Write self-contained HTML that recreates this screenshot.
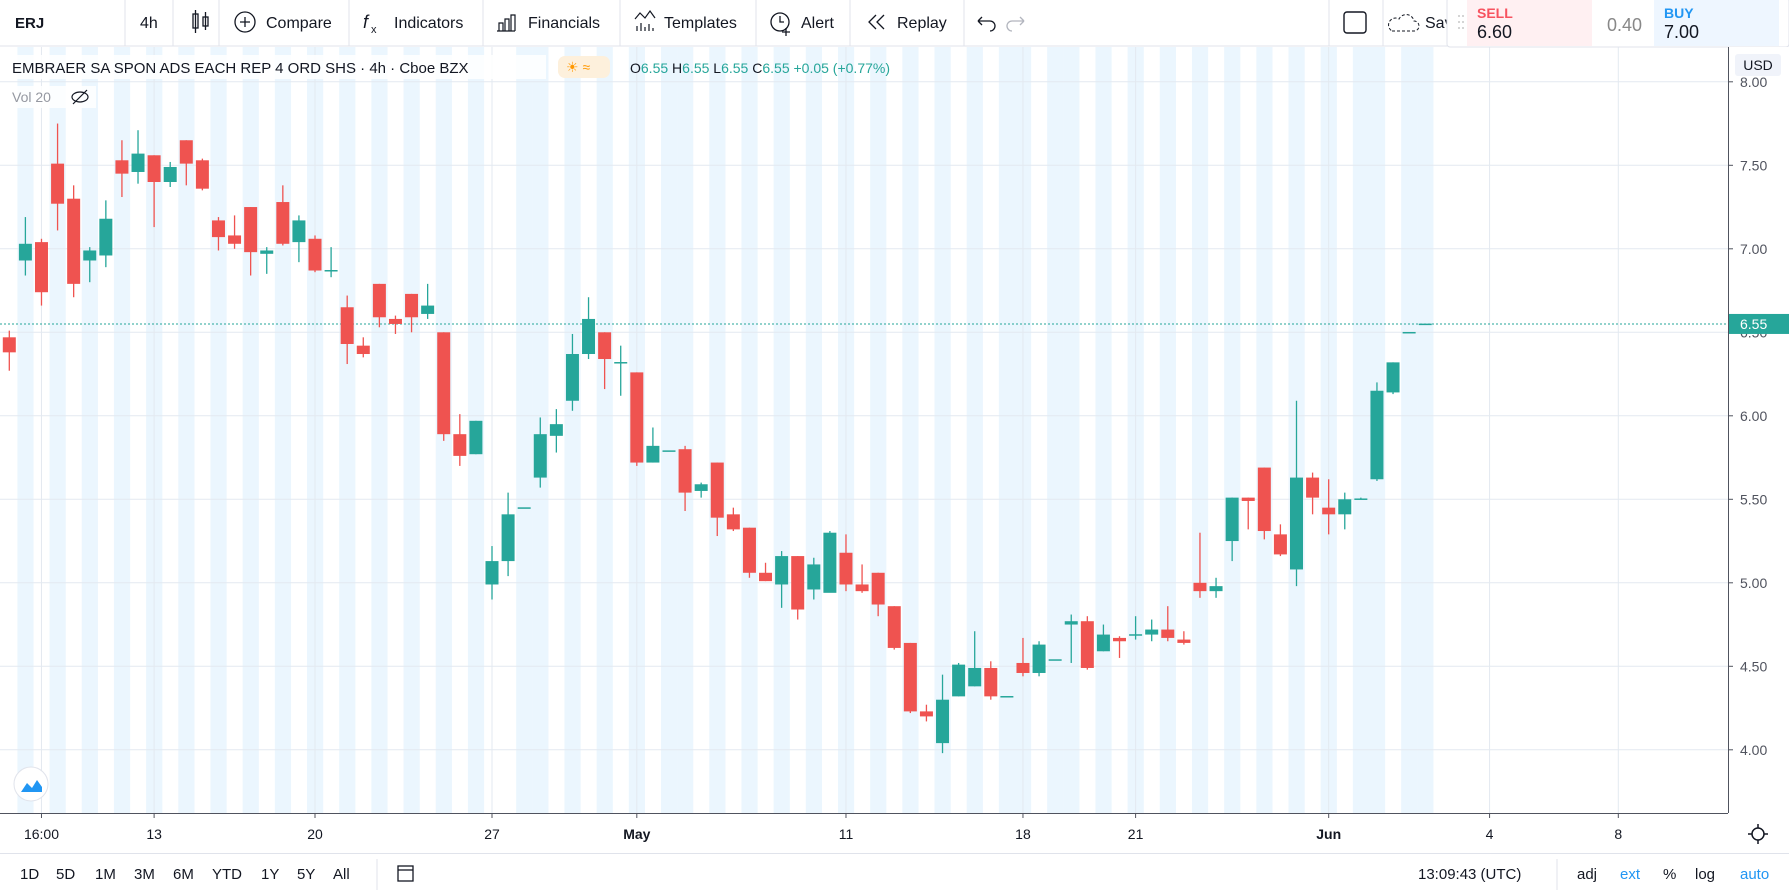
<!DOCTYPE html>
<html><head><meta charset="utf-8">
<style>
html,body{margin:0;padding:0;width:1789px;height:895px;overflow:hidden;background:#fff;font-family:"Liberation Sans",sans-serif;color:#131722}
svg{position:absolute;left:0;top:0}
text{font-family:"Liberation Sans",sans-serif}
</style></head>
<body>
<svg id="s" width="1789" height="895" viewBox="0 0 1789 895">
<g id="bands"></g>
<g id="grid"></g>
<g id="candles"></g>
<!-- toolbar -->
<g font-size="16" fill="#131722">
<rect x="0" y="0" width="1789" height="46" fill="#fff"/>
<line x1="0" y1="46" x2="1789" y2="46" stroke="#e0e3eb"/>
<text x="15" y="28" font-weight="bold" font-size="15">ERJ</text>
<g stroke="#e0e3eb"><line x1="125" y1="0" x2="125" y2="46"/><line x1="173" y1="0" x2="173" y2="46"/><line x1="219" y1="0" x2="219" y2="46"/><line x1="349" y1="0" x2="349" y2="46"/><line x1="483" y1="0" x2="483" y2="46"/><line x1="620" y1="0" x2="620" y2="46"/><line x1="756" y1="0" x2="756" y2="46"/><line x1="850" y1="0" x2="850" y2="46"/><line x1="964" y1="0" x2="964" y2="46"/><line x1="1329" y1="0" x2="1329" y2="46"/><line x1="1383" y1="0" x2="1383" y2="46"/></g>
<text x="140" y="28">4h</text>
<g stroke="#131722" fill="none" stroke-width="1.3"><rect x="193" y="14" width="5" height="14"/><line x1="195.5" y1="10" x2="195.5" y2="33"/><rect x="203" y="17" width="5" height="9"/><line x1="205.5" y1="12" x2="205.5" y2="30"/></g>
<g><circle cx="245" cy="22" r="10" fill="none" stroke="#131722" stroke-width="1.3"/><path d="M240 22h10M245 17v10" stroke="#131722" stroke-width="1.3"/><text x="266" y="28">Compare</text></g>
<g><text x="363" y="28" font-style="italic" font-size="18">f</text><text x="371" y="33" font-size="11">x</text><text x="394" y="28">Indicators</text></g>
<g><path d="M497 31h18M499 31v-8h4v8M505 31v-12h4v12M511 31v-16h4v16" stroke="#131722" fill="none" stroke-width="1.2"/><text x="528" y="28">Financials</text></g>
<g><path d="M635 19l5-6 5 5 5-7 5 7M637 31v-5M641 31v-8M645 31v-4M649 31v-7M653 31v-3" stroke="#131722" fill="none" stroke-width="1.2"/><text x="664" y="28">Templates</text></g>
<g><circle cx="780" cy="22" r="9" fill="none" stroke="#131722" stroke-width="1.3"/><path d="M780 16v6h4M786 28v8M782 32h8" stroke="#131722" fill="none" stroke-width="1.3"/><text x="801" y="28">Alert</text></g>
<g><path d="M876 15l-7 7 7 7M884 15l-7 7 7 7" stroke="#131722" fill="none" stroke-width="1.3"/><text x="897" y="28">Replay</text></g>
<path d="M978 21h12a5 5 0 0 1 0 10M978 21l4-4M978 21l4 4" stroke="#131722" fill="none" stroke-width="1.3"/>
<path d="M1024 21h-12a5 5 0 0 0 0 10M1024 21l-4-4M1024 21l-4 4" stroke="#b2b5be" fill="none" stroke-width="1.3"/>
<rect x="1344" y="12" width="22" height="21" rx="3" fill="none" stroke="#131722" stroke-width="1.4"/>
<path d="M1392 31h22a5 5 0 0 0 0-10a8 8 0 0 0-15-2a6 6 0 0 0-7 12z" fill="none" stroke="#131722" stroke-dasharray="3 2"/>
<text x="1425" y="28">Sav</text>
</g>
<!-- sell buy -->
<g>
<rect x="1447" y="-2" width="342" height="49" fill="#fff" stroke="#e0e3eb" rx="3"/>
<g fill="#c8c8c8"><circle cx="1459" cy="16" r="1"/><circle cx="1463" cy="16" r="1"/><circle cx="1459" cy="22" r="1"/><circle cx="1463" cy="22" r="1"/><circle cx="1459" cy="28" r="1"/><circle cx="1463" cy="28" r="1"/></g>
<g><rect x="1467" y="0" width="125" height="46" fill="#fff0f2"/><text x="1477" y="18" fill="#f7525f" font-size="14" font-weight="bold">SELL</text><text x="1477" y="38" font-size="18" fill="#131722">6.60</text></g>
<text x="1607" y="31" font-size="18" fill="#888">0.40</text>
<g><rect x="1654" y="0" width="125" height="46" fill="#eef6ff"/><text x="1664" y="18" fill="#2196f3" font-size="14" font-weight="bold">BUY</text><text x="1664" y="38" font-size="18" fill="#131722">7.00</text></g>
</g>
<!-- legend -->
<g font-size="15">
<rect x="6" y="55" width="540" height="24" fill="#fff" opacity="0.85"/>
<text x="12" y="73" fill="#131722">EMBRAER SA SPON ADS EACH REP 4 ORD SHS · 4h · Cboe BZX</text>
<rect x="558" y="56" width="52" height="22" rx="7" fill="#fdf0dc"/>
<text x="566" y="72" fill="#ff9800" font-size="14">☀ ≈</text>
<text x="630" y="73" fill="#26a69a" font-size="14"><tspan fill="#131722">O</tspan>6.55 <tspan fill="#131722">H</tspan>6.55 <tspan fill="#131722">L</tspan>6.55 <tspan fill="#131722">C</tspan>6.55 +0.05 (+0.77%)</text>
<rect x="6" y="86" width="90" height="22" fill="#fff" opacity="0.85"/>
<text x="12" y="102" fill="#9598a1" font-size="14">Vol 20</text>
<g stroke="#131722" fill="none" stroke-width="1.2"><ellipse cx="80" cy="97" rx="8" ry="5"/><line x1="73" y1="104" x2="87" y2="90"/></g>
</g>
<!-- axes -->
<rect x="1728" y="47" width="61" height="766" fill="#fff"/>
<line x1="1728.5" y1="47" x2="1728.5" y2="813" stroke="#50535e"/>
<rect x="0" y="813" width="1789" height="82" fill="#fff"/>
<line x1="0" y1="813.5" x2="1728" y2="813.5" stroke="#50535e"/>
<line x1="0" y1="853.5" x2="1789" y2="853.5" stroke="#e0e3eb"/>
<g id="yaxis"></g>
<g id="xaxis"></g>
<rect x="1735" y="54" width="46" height="22" rx="3" fill="#f0f3fa"/>
<text x="1758" y="70" text-anchor="middle" font-size="14" fill="#131722">USD</text>
<g id="lastp"></g>
<g><circle cx="1758" cy="834" r="6" fill="none" stroke="#131722" stroke-width="1.5"/><path d="M1758 824v4M1758 840v4M1748 834h4M1764 834h4" stroke="#131722" stroke-width="1.5"/></g>
<g><circle cx="31" cy="784" r="17" fill="#fff" stroke="#e0e3eb"/><path d="M21 792l6-9 5 5 5-8 5 7v5z" fill="#2196f3"/></g>
<!-- bottom bar -->
<g font-size="15" fill="#131722">
<text x="20" y="879">1D</text>
<text x="56" y="879">5D</text>
<text x="95" y="879">1M</text>
<text x="134" y="879">3M</text>
<text x="173" y="879">6M</text>
<text x="212" y="879">YTD</text>
<text x="261" y="879">1Y</text>
<text x="297" y="879">5Y</text>
<text x="333" y="879">All</text>
<line x1="377" y1="859" x2="377" y2="890" stroke="#e0e3eb"/>
<g stroke="#131722" fill="none" stroke-width="1.3"><rect x="398" y="866" width="15" height="15"/><line x1="398" y1="870" x2="413" y2="870"/></g>
<text x="1418" y="879">13:09:43 (UTC)</text>
<line x1="1557" y1="859" x2="1557" y2="890" stroke="#e0e3eb"/>
<text x="1577" y="879">adj</text>
<text x="1620" y="879" fill="#2196f3">ext</text>
<text x="1663" y="879">%</text>
<text x="1695" y="879">log</text>
<text x="1740" y="879" fill="#2196f3">auto</text>
</g>
</svg>
<script>
const opens  = [6.47,6.93,7.04,7.51,7.30,6.93,6.96,7.53,7.46,7.56,7.40,7.65,7.53,7.17,7.08,7.25,6.97,7.28,7.04,7.06,6.87,6.65,6.42,6.79,6.58,6.73,6.61,6.50,5.89,5.77,4.99,5.13,5.45,5.63,5.88,6.09,6.37,6.50,6.32,6.26,5.72,5.79,5.80,5.55,5.72,5.41,5.33,5.06,4.99,5.16,4.96,4.94,5.18,4.99,5.06,4.86,4.64,4.23,4.04,4.32,4.38,4.49,4.32,4.52,4.46,4.54,4.75,4.77,4.59,4.67,4.69,4.69,4.72,4.66,5.00,4.95,5.25,5.51,5.69,5.29,5.08,5.63,5.45,5.41,5.50,5.62,6.14,6.50,6.55];
const highs  = [6.51,7.19,7.06,7.75,7.38,7.01,7.29,7.65,7.71,7.56,7.52,7.65,7.54,7.19,7.20,7.25,7.01,7.38,7.20,7.08,7.01,6.72,6.47,6.79,6.60,6.73,6.79,6.50,6.01,5.97,5.22,5.54,5.45,5.99,6.04,6.49,6.71,6.50,6.42,6.26,5.93,5.79,5.82,5.60,5.72,5.45,5.33,5.12,5.19,5.16,5.15,5.31,5.29,5.11,5.06,4.86,4.64,4.27,4.45,4.52,4.71,4.53,4.32,4.67,4.65,4.54,4.81,4.80,4.75,4.68,4.80,4.78,4.86,4.71,5.30,5.03,5.51,5.51,5.69,5.35,6.09,5.66,5.62,5.54,5.51,6.20,6.32,6.50,6.55];
const lows   = [6.27,6.84,6.66,7.11,6.71,6.80,6.89,7.31,7.39,7.13,7.37,7.38,7.35,6.99,7.00,6.84,6.85,7.02,6.92,6.86,6.83,6.31,6.35,6.53,6.49,6.50,6.58,5.85,5.70,5.77,4.90,5.04,5.45,5.57,5.78,6.03,6.34,6.16,6.12,5.70,5.72,5.79,5.43,5.51,5.28,5.31,5.03,5.01,4.85,4.78,4.90,5.04,4.95,4.94,4.80,4.60,4.22,4.17,3.98,4.32,4.38,4.30,4.32,4.44,4.44,4.54,4.52,4.48,4.59,4.55,4.66,4.65,4.65,4.63,4.91,4.91,5.13,5.32,5.26,5.16,4.98,5.41,5.29,5.32,5.50,5.61,6.13,6.50,6.55];
const closes = [6.38,7.03,6.74,7.27,6.79,6.99,7.18,7.45,7.57,7.40,7.49,7.51,7.36,7.07,7.03,6.98,6.99,7.03,7.17,6.87,6.873,6.43,6.37,6.59,6.55,6.59,6.66,5.89,5.76,5.97,5.13,5.41,5.452,5.89,5.95,6.37,6.58,6.34,6.322,5.72,5.82,5.793,5.54,5.59,5.39,5.32,5.06,5.01,5.16,4.84,5.11,5.30,4.99,4.95,4.87,4.61,4.23,4.20,4.30,4.51,4.49,4.32,4.322,4.46,4.63,4.542,4.77,4.49,4.69,4.65,4.692,4.72,4.67,4.64,4.95,4.98,5.51,5.49,5.31,5.17,5.63,5.51,5.41,5.50,5.505,6.15,6.32,6.502,6.552];
const shadedBars = [1,3,5,7,9,11,13,15,17,19,21,23,25,27,29,32,33,35,37,39,41,42,44,46,48,50,52,54,56,58,60,62,63,65,66,68,70,72,74,76,78,80,82,84,85,87,88];
const priceTicks = [8.00,7.50,7.00,6.50,6.00,5.50,5.00,4.50,4.00];
const timeLabels = ["16:00","13","20","27","May","11","18","21","Jun","4","8"];
const timeLabelBars = [2,9,19,30,39,52,63,70,82,92,100];
const lastPrice = 6.55;

const NS="http://www.w3.org/2000/svg";
function yScale(p){return 81.8+(8-p)*167;}
function xScale(i){return 9.3+i*16.09;}
function mk(tag,attrs,parent){const e=document.createElementNS(NS,tag);for(const k in attrs)e.setAttribute(k,attrs[k]);parent.appendChild(e);return e;}
const bands=document.getElementById('bands'),grid=document.getElementById('grid'),cg=document.getElementById('candles');
mk('rect',{x:0,y:47,width:1728,height:766,fill:'#fff'},bands);
shadedBars.forEach(i=>{
  const r=mk('rect',{x:xScale(i)-8,y:47,width:16.2,height:766,fill:'#ebf6fe'},bands);
  
  
});
priceTicks.forEach(p=>{
  const l=mk('line',{x1:0,x2:1728,y1:yScale(p),y2:yScale(p),stroke:'#e3e9f0'},grid);
  
  
});
timeLabelBars.forEach(b=>{
  const l=mk('line',{x1:xScale(b),x2:xScale(b),y1:47,y2:813,stroke:'#e3e9f0'},grid);
  
  
});
// last price line
const lp=mk('line',{x1:0,x2:1728,y1:yScale(lastPrice),y2:yScale(lastPrice),stroke:'#26a69a','stroke-dasharray':'2 2'},grid);


opens.forEach((o,i)=>{
  const c=closes[i],up=c>=o,col=up?'#26a69a':'#ef5350',x=xScale(i);
  const g=mk('g',{},cg);
  
  
  mk('line',{x1:x,x2:x,y1:yScale(highs[i]),y2:yScale(lows[i]),stroke:col,'stroke-width':1.3},g);
  const top=yScale(Math.max(o,c)),bot=yScale(Math.min(o,c));
  mk('rect',{x:x-6.5,y:top,width:13,height:Math.max(bot-top,1.5),fill:col},g);
});
const ya=document.getElementById('yaxis');
priceTicks.forEach(p=>{
  const y=yScale(p);
  mk('line',{x1:1728,x2:1733,y1:y,y2:y,stroke:'#50535e'},ya);
  const t=mk('text',{x:1740,y:y+5,'font-size':14,fill:'#50535e'},ya);
  
  
  t.textContent=p.toFixed(2);
});
const lpg=document.getElementById('lastp');
mk('rect',{x:1729,y:yScale(lastPrice)-10,width:60,height:20,fill:'#26a69a'},lpg);
const lt=mk('text',{x:1740,y:yScale(lastPrice)+5,'font-size':14,fill:'#fff'},lpg);
lt.textContent=lastPrice.toFixed(2);
const xa=document.getElementById('xaxis');
timeLabels.forEach((s,k)=>{
  const x=xScale(timeLabelBars[k]);
  mk('line',{x1:x,x2:x,y1:813,y2:818,stroke:'#50535e'},xa);
  const t=mk('text',{x:x,y:839,'text-anchor':'middle','font-size':14,fill:'#131722','font-weight':(s==='May'||s==='Jun')?'bold':'normal'},xa);
  
  
  t.textContent=s;
});
</script>
</body></html>
